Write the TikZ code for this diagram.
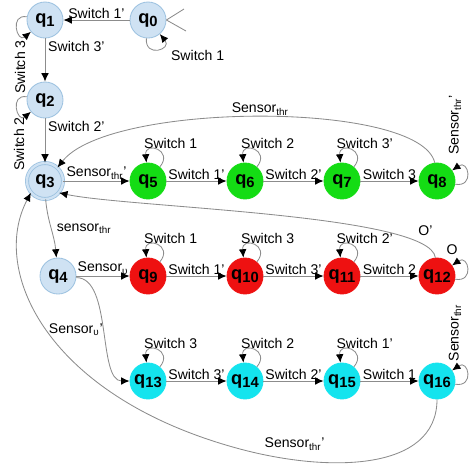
\documentclass[tikz,border=0pt]{standalone}
\usepackage{fontspec}
\setmainfont{Liberation Sans}
\usetikzlibrary{arrows.meta}
\definecolor{fsmBlue}{HTML}{CFE2F3}
\definecolor{fsmBlueLine}{HTML}{9DC2E0}
\definecolor{fsmGreen}{HTML}{14DC14}
\definecolor{fsmRed}{HTML}{EE1111}
\definecolor{fsmCyan}{HTML}{14E4EE}
\definecolor{fsmEdge}{HTML}{8C8C8C}
\newcommand{\qname}[1]{{\fontsize{13}{13}\selectfont\bfseries q\raisebox{-2.6pt}{\fontsize{10.5}{10.5}\selectfont\bfseries #1}}}
\tikzset{
  fsm state/.style={circle, minimum size=9mm, inner sep=0pt, line width=0.6pt},
  idle state/.style={fsm state, draw=fsmBlueLine, fill=fsmBlue},
  green state/.style={fsm state, draw=fsmGreen, fill=fsmGreen},
  red state/.style={fsm state, draw=fsmRed, fill=fsmRed},
  cyan state/.style={fsm state, draw=fsmCyan, fill=fsmCyan},
  fsm edge/.style={draw=fsmEdge, line width=0.6pt,
    -{Latex[length=2.1mm, width=1.9mm, color=black]}},
  fsm label/.style={font=\normalsize, inner sep=1pt, text=black},
  top loop/.style={out=50, in=95, distance=5.5mm},
  right loop/.style={out=-10, in=35, distance=5mm},
  left loop/.style={out=170, in=220, distance=4.5mm},
  low loop/.style={out=-95, in=-50, distance=5mm},
  loop label/.style={fsm label, above, xshift=3.25mm}
}
\begin{document}
\begin{tikzpicture}[x=0.25mm, y=-0.25mm]
\useasboundingbox (0,0) rectangle (474,474);
% states
\node[idle state] (q1) at (45,20) {\qname{1}};
\node[idle state] (q0) at (148,20) {\qname{0}};
\node[idle state] (q2) at (45,100) {\qname{2}};
\node[idle state, double=fsmBlue, double distance=1.6pt] (q3) at (45,181) {\qname{3}};
\node[idle state] (q4) at (58,276) {\qname{4}};
\node[green state] (q5) at (148,181) {\qname{5}};
\node[green state] (q6) at (245,181) {\qname{6}};
\node[green state] (q7) at (342,181) {\qname{7}};
\node[green state] (q8) at (437,181) {\qname{8}};
\node[red state] (q9) at (148,276) {\qname{9}};
\node[red state] (q10) at (245,276) {\qname{10}};
\node[red state] (q11) at (342,276) {\qname{11}};
\node[red state] (q12) at (437,276) {\qname{12}};
\node[cyan state] (q13) at (148,381) {\qname{13}};
\node[cyan state] (q14) at (245,381) {\qname{14}};
\node[cyan state] (q15) at (342,381) {\qname{15}};
\node[cyan state] (q16) at (437,381) {\qname{16}};
% start mark
\coordinate (start a) at (184,9);
\coordinate (start b) at (186,31);
\draw[fsm edge, -] (q0.east) -- (start a);
\draw[fsm edge, -] (q0.east) -- (start b);
% top column
\draw[fsm edge] (q0) -- node[fsm label, above] (l01) {Switch 1'} (q1);
\draw[fsm edge] (q0) to[low loop] node[fsm label, right=3mm, yshift=-1.5mm] (l00) {Switch 1} (q0);
\draw[fsm edge] (q1) to[left loop] (q1);
\draw[fsm edge] (q1) -- node[fsm label, below right, pos=0, inner sep=2pt] (l12) {Switch 3'} (q2);
\draw[fsm edge] (q2) to[left loop] (q2);
\draw[fsm edge] (q2) -- node[fsm label, below right, pos=0, inner sep=2pt] (l23) {Switch 2'} (q3);
\node[fsm label, rotate=90] (l11) at ([shift={(-25,47)}]q1.center) {Switch 3};
\node[fsm label, rotate=90] (l22) at ([shift={(-26,44)}]q2.center) {Switch 2};
% green row
\draw[fsm edge] (q3) -- node[fsm label, above] (l35) {Sensor\textsubscript{thr}'} (q5);
\draw[fsm edge] (q5) -- node[fsm label, above] (l56) {Switch 1'} (q6);
\draw[fsm edge] (q6) -- node[fsm label, above] (l67) {Switch 2'} (q7);
\draw[fsm edge] (q7) -- node[fsm label, above] (l78) {Switch 3} (q8);
\draw[fsm edge] (q5) to[top loop] node[loop label] (l55) {Switch 1} (q5);
\draw[fsm edge] (q6) to[top loop] node[loop label] (l66) {Switch 2} (q6);
\draw[fsm edge] (q7) to[top loop] node[loop label] (l77) {Switch 3'} (q7);
\draw[fsm edge] (q8) to[right loop] (q8);
\node[fsm label, rotate=90] (l88) at ([shift={(18,-56)}]q8.center) {Sensor\textsubscript{thr}'};
\draw[fsm edge] (q8.97) to[out=103, in=52, out distance=16mm, in distance=21mm]
  node[fsm label, above] (l83) {Sensor\textsubscript{thr}} (q3.47);
% red row
\draw[fsm edge] (q3.-88) to[out=-85, in=95] node[fsm label, right=1mm] (l34) {sensor\textsubscript{thr}} (q4);
\draw[fsm edge] (q4) -- node[fsm label, above] (l49) {Sensor\textsubscript{υ}} (q9);
\draw[fsm edge] (q9) -- node[fsm label, above] (l910) {Switch 1'} (q10);
\draw[fsm edge] (q10) -- node[fsm label, above] (l1011) {Switch 3'} (q11);
\draw[fsm edge] (q11) -- node[fsm label, above] (l1112) {Switch 2} (q12);
\draw[fsm edge] (q9) to[top loop] node[loop label] (l99) {Switch 1} (q9);
\draw[fsm edge] (q10) to[top loop] node[loop label] (l1010) {Switch 3} (q10);
\draw[fsm edge] (q11) to[top loop] node[loop label] (l1111) {Switch 2'} (q11);
\draw[fsm edge] (q12) to[right loop] (q12);
\node[fsm label] (l1212) at ([shift={(15,-26)}]q12.center) {O};
\draw[fsm edge] (q12.95) to[out=97, in=-12, out distance=11mm, in distance=18mm]
  node[fsm label, above=2mm, pos=0.1] (l123) {O'} (q3.-40);
% cyan row
\draw[fsm edge] (q4.-5) to[out=0, in=180, out distance=9mm, in distance=8mm]
  node[fsm label, left] (l413) {Sensor\textsubscript{υ}'} (q13);
\draw[fsm edge] (q13) -- node[fsm label, above] (l1314) {Switch 3'} (q14);
\draw[fsm edge] (q14) -- node[fsm label, above] (l1415) {Switch 2'} (q15);
\draw[fsm edge] (q15) -- node[fsm label, above] (l1516) {Switch 1} (q16);
\draw[fsm edge] (q13) to[top loop] node[loop label] (l1313) {Switch 3} (q13);
\draw[fsm edge] (q14) to[top loop] node[loop label] (l1414) {Switch 2} (q14);
\draw[fsm edge] (q15) to[top loop] node[loop label] (l1515) {Switch 1'} (q15);
\draw[fsm edge] (q16) to[right loop] (q16);
\node[fsm label, rotate=90] (l1616) at ([shift={(18,-48)}]q16.center) {Sensor\textsubscript{thr}};
\coordinate (sweep) at (240,449);
\draw[fsm edge] (q16.-90) to[out=-90, in=-15, out distance=18mm, in distance=23mm]
  node[fsm label, above=2mm, pos=0.8] (l163) {Sensor\textsubscript{thr}'} (sweep)
  to[out=165, in=-118, out distance=50mm, in distance=22mm] (q3.220);
\end{tikzpicture}
\end{document}
